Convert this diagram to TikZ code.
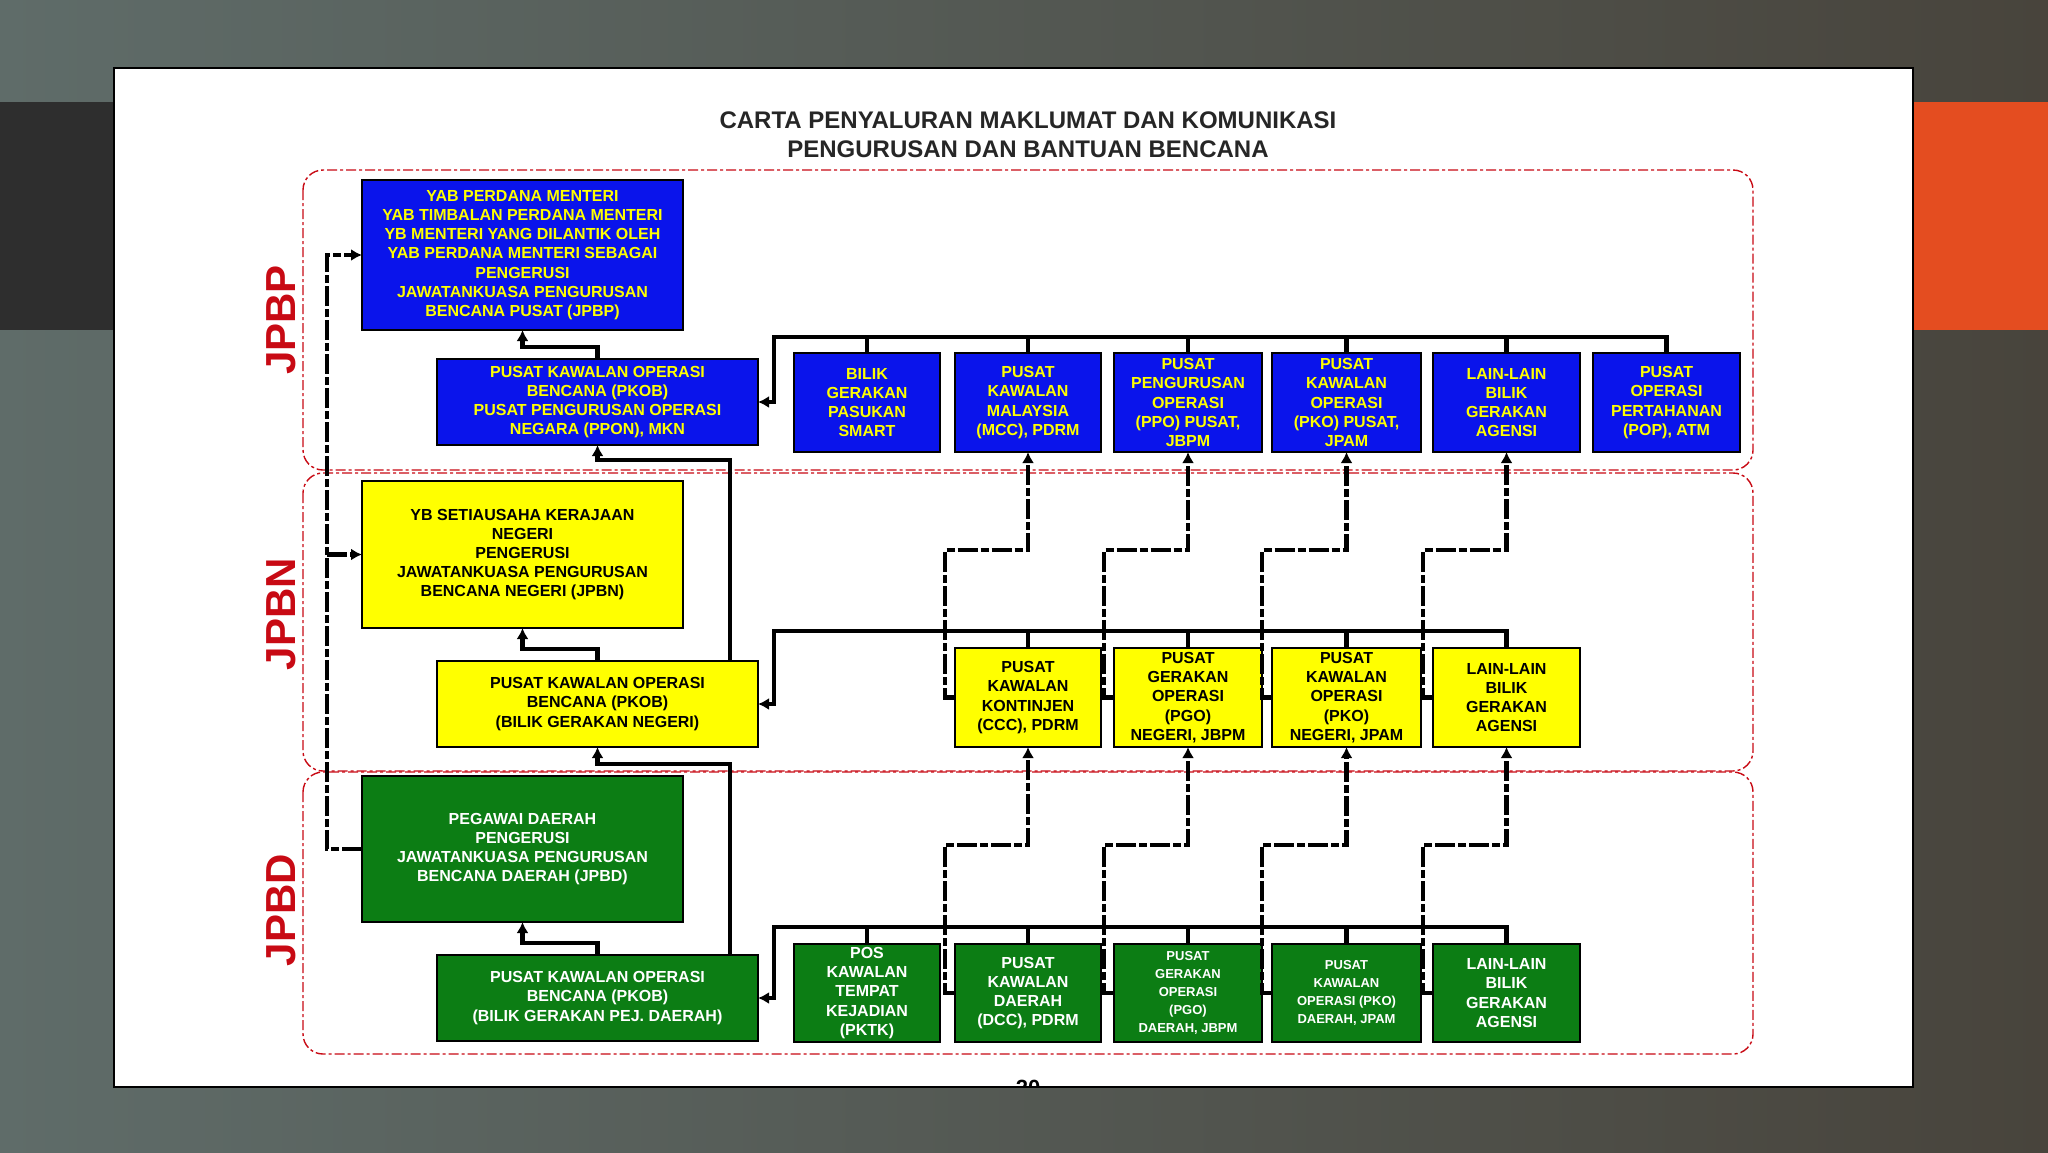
\documentclass[tikz,border=0pt]{standalone}
\usepackage{fontspec}
\setmainfont{Liberation Sans}
\usetikzlibrary{arrows.meta}
\definecolor{bbl}{RGB}{10,20,235}
\definecolor{ggr}{RGB}{12,125,20}
\definecolor{yy}{RGB}{255,255,0}
\definecolor{rd}{RGB}{200,10,20}
\definecolor{org}{RGB}{228,77,32}
\newcommand\bx[7]{\node[#6, minimum width={(#4-#2)*0.5pt}, minimum height={(#5-#3)*0.5pt}] (#1) at ({(#2+#4)/2},{(#3+#5)/2}) {#7};}
\begin{document}
\begin{tikzpicture}[x=0.5pt,y=-0.5pt,
  box/.style={draw=black,line width=1pt,inner sep=0pt,outer sep=0pt,align=center,font=\bfseries\fontsize{8}{9.6}\selectfont},
  blu/.style={box,fill=bbl,text=yy},
  yel/.style={box,fill=yy,text=black},
  grn/.style={box,fill=ggr,text=white},
  conn/.style={line width=2.2pt,black},
  arr/.style={-{Latex[length=5.5pt,width=6pt]}},
  dd/.style={conn,dash pattern=on 10pt off 1.5pt on 4pt off 1.5pt},
  reg/.style={rd,line width=0.7pt,rounded corners=10pt,dash pattern=on 5pt off 1.5pt on 1.5pt off 1.5pt},
  lab/.style={rd,font=\bfseries\fontsize{21}{21}\selectfont,rotate=90}]
\useasboundingbox (0,0) rectangle (2048,1152);
\shade[left color={rgb,255:red,95;green,108;blue,105},right color={rgb,255:red,72;green,68;blue,60}] (0,0) rectangle (2048,1152);
\fill[black!82] (0,102) rectangle (114,330);
\fill[org] (1913,102) rectangle (2048,330);
\fill[white] (114,68) rectangle (1913,1087);
\draw[black,line width=0.8pt] (114,68) rectangle (1913,1087);
\begin{scope}
\clip (114,68) rectangle (1913,1087);
\node[font=\fontsize{11}{12}\selectfont\bfseries] (pg) at (1028,1088) {20};
\end{scope}
\node[font=\bfseries\fontsize{12}{14.5}\selectfont,text=black!85,align=center] (title) at (1028,135) {CARTA PENYALURAN MAKLUMAT DAN KOMUNIKASI\\PENGURUSAN DAN BANTUAN BENCANA};
% regions
\draw[reg] (303,170) rectangle (1753,470);
\draw[reg] (303,473) rectangle (1753,771);
\draw[reg] (303,772) rectangle (1753,1054);
\node[lab] (lP) at (281,320) {JPBP};
\node[lab] (lN) at (281,614) {JPBN};
\node[lab] (lD) at (281,910) {JPBD};
% main boxes
\bx{bigP}{362}{180}{683}{330}{blu}{YAB PERDANA MENTERI\\YAB TIMBALAN PERDANA MENTERI\\YB MENTERI YANG DILANTIK OLEH\\YAB PERDANA MENTERI SEBAGAI\\PENGERUSI\\JAWATANKUASA PENGURUSAN\\BENCANA PUSAT (JPBP)}
\bx{pkobP}{437}{359}{758}{445}{blu}{PUSAT KAWALAN OPERASI\\BENCANA (PKOB)\\PUSAT PENGURUSAN OPERASI\\NEGARA (PPON), MKN}
\bx{bigN}{362}{481}{683}{628}{yel}{YB SETIAUSAHA KERAJAAN\\NEGERI\\PENGERUSI\\JAWATANKUASA PENGURUSAN\\BENCANA NEGERI (JPBN)}
\bx{pkobN}{437}{661}{758}{747}{yel}{PUSAT KAWALAN OPERASI\\BENCANA (PKOB)\\(BILIK GERAKAN NEGERI)}
\bx{bigD}{362}{776}{683}{922}{grn}{PEGAWAI DAERAH\\PENGERUSI\\JAWATANKUASA PENGURUSAN\\BENCANA DAERAH (JPBD)}
\bx{pkobD}{437}{955}{758}{1041}{grn}{PUSAT KAWALAN OPERASI\\BENCANA (PKOB)\\(BILIK GERAKAN PEJ. DAERAH)}
% top row
\bx{p1}{794}{353}{940}{452}{blu}{BILIK\\GERAKAN\\PASUKAN\\SMART}
\bx{p2}{955}{353}{1101}{452}{blu}{PUSAT\\KAWALAN\\MALAYSIA\\(MCC), PDRM}
\bx{p3}{1114}{353}{1262}{452}{blu}{PUSAT\\PENGURUSAN\\OPERASI\\(PPO) PUSAT,\\JBPM}
\bx{p4}{1272}{353}{1421}{452}{blu}{PUSAT\\KAWALAN\\OPERASI\\(PKO) PUSAT,\\JPAM}
\bx{p5}{1433}{353}{1580}{452}{blu}{LAIN-LAIN\\BILIK\\GERAKAN\\AGENSI}
\bx{p6}{1593}{353}{1740}{452}{blu}{PUSAT\\OPERASI\\PERTAHANAN\\(POP), ATM}
% middle row
\bx{n2}{955}{648}{1101}{747}{yel}{PUSAT\\KAWALAN\\KONTINJEN\\(CCC), PDRM}
\bx{n3}{1114}{648}{1262}{747}{yel}{PUSAT\\GERAKAN\\OPERASI\\(PGO)\\NEGERI, JBPM}
\bx{n4}{1272}{648}{1421}{747}{yel}{PUSAT\\KAWALAN\\OPERASI\\(PKO)\\NEGERI, JPAM}
\bx{n5}{1433}{648}{1580}{747}{yel}{LAIN-LAIN\\BILIK\\GERAKAN\\AGENSI}
% bottom row
\bx{d1}{794}{944}{940}{1042}{grn}{POS\\KAWALAN\\TEMPAT\\KEJADIAN\\(PKTK)}
\bx{d2}{955}{944}{1101}{1042}{grn}{PUSAT\\KAWALAN\\DAERAH\\(DCC), PDRM}
\bx{d3}{1114}{944}{1262}{1042}{grn,font=\bfseries\fontsize{6.5}{9}\selectfont}{PUSAT\\GERAKAN\\OPERASI\\(PGO)\\DAERAH, JBPM}
\bx{d4}{1272}{944}{1421}{1042}{grn,font=\bfseries\fontsize{6.5}{9}\selectfont}{PUSAT\\KAWALAN\\OPERASI (PKO)\\DAERAH, JPAM}
\bx{d5}{1433}{944}{1580}{1042}{grn}{LAIN-LAIN\\BILIK\\GERAKAN\\AGENSI}
% PKOB -> committee
\draw[conn,arr] (pkobP.north) -- ++(0,-12) -| (bigP.south);
\draw[conn,arr] (pkobN.north) -- ++(0,-12) -| (bigN.south);
\draw[conn,arr] (pkobD.north) -- ++(0,-12) -| (bigD.south);
% lower PKOB -> upper PKOB
\coordinate (jN) at (730,460);
\coordinate (jD) at (730,764);
\draw[conn,arr] (pkobN.north -| jN) -- (jN) -| (pkobP.south);
\draw[conn,arr] (pkobD.north -| jD) -- (jD) -| (pkobN.south);
% buses
\coordinate (bP) at (774,337);
\coordinate (bN) at (774,631);
\coordinate (bD) at (774,927);
\draw[conn,arr] (p6.north) |- (bP) |- (pkobP.east);
\foreach \b in {p1,p2,p3,p4,p5} \draw[conn] (\b.north) -- (\b.north |- bP);
\draw[conn,arr] (n5.north) |- (bN) |- (pkobN.east);
\foreach \b in {n2,n3,n4} \draw[conn] (\b.north) -- (\b.north |- bN);
\draw[conn,arr] (d5.north) |- (bD) |- (pkobD.east);
\foreach \b in {d1,d2,d3,d4} \draw[conn] (\b.north) -- (\b.north |- bD);
% left line
\coordinate (L1) at (327,255);
\draw[dd,arr] (bigD.west) -| (L1) -- (bigP.west |- L1);
\draw[dd,arr] (bigN.west -| L1) -- (bigN.west);
% staircases
\coordinate (sN2) at (945,550); \coordinate (sD2) at (945,845);
\coordinate (sN3) at (1104,550); \coordinate (sD3) at (1104,845);
\coordinate (sN4) at (1262,550); \coordinate (sD4) at (1262,845);
\coordinate (sN5) at (1423,550); \coordinate (sD5) at (1423,845);
\foreach \i in {2,3,4,5}{
  \draw[dd,arr] (n\i.west) -| (sN\i) -| (p\i.south);
  \draw[dd,arr] (d\i.west) -| (sD\i) -| (n\i.south);
}
\end{tikzpicture}
\end{document}
